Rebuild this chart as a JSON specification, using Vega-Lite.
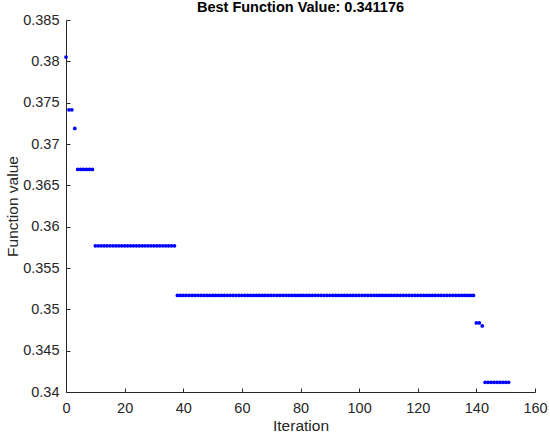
{
  "$schema": "https://vega.github.io/schema/vega-lite/v6.json",
  "autosize": {"type": "none"},
  "width": 469,
  "height": 372,
  "padding": {"left": 66, "top": 20, "right": 15, "bottom": 43},
  "background": "white",
  "title": {
    "text": "Best Function Value: 0.341176",
    "font": "Liberation Sans",
    "fontSize": 14.5,
    "fontWeight": "bold",
    "color": "#000000",
    "anchor": "middle",
    "offset": -3
  },
  "config": {
    "view": {"stroke": null},
    "axis": {
      "grid": false,
      "domainColor": "#262626",
      "tickColor": "#262626",
      "labelColor": "#262626",
      "titleColor": "#262626",
      "labelFont": "Liberation Sans",
      "titleFont": "Liberation Sans",
      "labelFontSize": 14.5,
      "titleFontSize": 15.5,
      "titleFontWeight": "normal",
      "tickSize": -4
    }
  },
  "data": {
    "values": [
      {"iter": 0, "val": 0.38052},
      {"iter": 1, "val": 0.37414},
      {"iter": 2, "val": 0.37414},
      {"iter": 3, "val": 0.37189},
      {"iter": 4, "val": 0.36692},
      {"iter": 5, "val": 0.36692},
      {"iter": 6, "val": 0.36692},
      {"iter": 7, "val": 0.36692},
      {"iter": 8, "val": 0.36692},
      {"iter": 9, "val": 0.36692},
      {"iter": 10, "val": 0.35768},
      {"iter": 11, "val": 0.35768},
      {"iter": 12, "val": 0.35768},
      {"iter": 13, "val": 0.35768},
      {"iter": 14, "val": 0.35768},
      {"iter": 15, "val": 0.35768},
      {"iter": 16, "val": 0.35768},
      {"iter": 17, "val": 0.35768},
      {"iter": 18, "val": 0.35768},
      {"iter": 19, "val": 0.35768},
      {"iter": 20, "val": 0.35768},
      {"iter": 21, "val": 0.35768},
      {"iter": 22, "val": 0.35768},
      {"iter": 23, "val": 0.35768},
      {"iter": 24, "val": 0.35768},
      {"iter": 25, "val": 0.35768},
      {"iter": 26, "val": 0.35768},
      {"iter": 27, "val": 0.35768},
      {"iter": 28, "val": 0.35768},
      {"iter": 29, "val": 0.35768},
      {"iter": 30, "val": 0.35768},
      {"iter": 31, "val": 0.35768},
      {"iter": 32, "val": 0.35768},
      {"iter": 33, "val": 0.35768},
      {"iter": 34, "val": 0.35768},
      {"iter": 35, "val": 0.35768},
      {"iter": 36, "val": 0.35768},
      {"iter": 37, "val": 0.35768},
      {"iter": 38, "val": 0.35168},
      {"iter": 39, "val": 0.35168},
      {"iter": 40, "val": 0.35168},
      {"iter": 41, "val": 0.35168},
      {"iter": 42, "val": 0.35168},
      {"iter": 43, "val": 0.35168},
      {"iter": 44, "val": 0.35168},
      {"iter": 45, "val": 0.35168},
      {"iter": 46, "val": 0.35168},
      {"iter": 47, "val": 0.35168},
      {"iter": 48, "val": 0.35168},
      {"iter": 49, "val": 0.35168},
      {"iter": 50, "val": 0.35168},
      {"iter": 51, "val": 0.35168},
      {"iter": 52, "val": 0.35168},
      {"iter": 53, "val": 0.35168},
      {"iter": 54, "val": 0.35168},
      {"iter": 55, "val": 0.35168},
      {"iter": 56, "val": 0.35168},
      {"iter": 57, "val": 0.35168},
      {"iter": 58, "val": 0.35168},
      {"iter": 59, "val": 0.35168},
      {"iter": 60, "val": 0.35168},
      {"iter": 61, "val": 0.35168},
      {"iter": 62, "val": 0.35168},
      {"iter": 63, "val": 0.35168},
      {"iter": 64, "val": 0.35168},
      {"iter": 65, "val": 0.35168},
      {"iter": 66, "val": 0.35168},
      {"iter": 67, "val": 0.35168},
      {"iter": 68, "val": 0.35168},
      {"iter": 69, "val": 0.35168},
      {"iter": 70, "val": 0.35168},
      {"iter": 71, "val": 0.35168},
      {"iter": 72, "val": 0.35168},
      {"iter": 73, "val": 0.35168},
      {"iter": 74, "val": 0.35168},
      {"iter": 75, "val": 0.35168},
      {"iter": 76, "val": 0.35168},
      {"iter": 77, "val": 0.35168},
      {"iter": 78, "val": 0.35168},
      {"iter": 79, "val": 0.35168},
      {"iter": 80, "val": 0.35168},
      {"iter": 81, "val": 0.35168},
      {"iter": 82, "val": 0.35168},
      {"iter": 83, "val": 0.35168},
      {"iter": 84, "val": 0.35168},
      {"iter": 85, "val": 0.35168},
      {"iter": 86, "val": 0.35168},
      {"iter": 87, "val": 0.35168},
      {"iter": 88, "val": 0.35168},
      {"iter": 89, "val": 0.35168},
      {"iter": 90, "val": 0.35168},
      {"iter": 91, "val": 0.35168},
      {"iter": 92, "val": 0.35168},
      {"iter": 93, "val": 0.35168},
      {"iter": 94, "val": 0.35168},
      {"iter": 95, "val": 0.35168},
      {"iter": 96, "val": 0.35168},
      {"iter": 97, "val": 0.35168},
      {"iter": 98, "val": 0.35168},
      {"iter": 99, "val": 0.35168},
      {"iter": 100, "val": 0.35168},
      {"iter": 101, "val": 0.35168},
      {"iter": 102, "val": 0.35168},
      {"iter": 103, "val": 0.35168},
      {"iter": 104, "val": 0.35168},
      {"iter": 105, "val": 0.35168},
      {"iter": 106, "val": 0.35168},
      {"iter": 107, "val": 0.35168},
      {"iter": 108, "val": 0.35168},
      {"iter": 109, "val": 0.35168},
      {"iter": 110, "val": 0.35168},
      {"iter": 111, "val": 0.35168},
      {"iter": 112, "val": 0.35168},
      {"iter": 113, "val": 0.35168},
      {"iter": 114, "val": 0.35168},
      {"iter": 115, "val": 0.35168},
      {"iter": 116, "val": 0.35168},
      {"iter": 117, "val": 0.35168},
      {"iter": 118, "val": 0.35168},
      {"iter": 119, "val": 0.35168},
      {"iter": 120, "val": 0.35168},
      {"iter": 121, "val": 0.35168},
      {"iter": 122, "val": 0.35168},
      {"iter": 123, "val": 0.35168},
      {"iter": 124, "val": 0.35168},
      {"iter": 125, "val": 0.35168},
      {"iter": 126, "val": 0.35168},
      {"iter": 127, "val": 0.35168},
      {"iter": 128, "val": 0.35168},
      {"iter": 129, "val": 0.35168},
      {"iter": 130, "val": 0.35168},
      {"iter": 131, "val": 0.35168},
      {"iter": 132, "val": 0.35168},
      {"iter": 133, "val": 0.35168},
      {"iter": 134, "val": 0.35168},
      {"iter": 135, "val": 0.35168},
      {"iter": 136, "val": 0.35168},
      {"iter": 137, "val": 0.35168},
      {"iter": 138, "val": 0.35168},
      {"iter": 139, "val": 0.35168},
      {"iter": 140, "val": 0.34835},
      {"iter": 141, "val": 0.34835},
      {"iter": 142, "val": 0.34799},
      {"iter": 143, "val": 0.341176},
      {"iter": 144, "val": 0.341176},
      {"iter": 145, "val": 0.341176},
      {"iter": 146, "val": 0.341176},
      {"iter": 147, "val": 0.341176},
      {"iter": 148, "val": 0.341176},
      {"iter": 149, "val": 0.341176},
      {"iter": 150, "val": 0.341176},
      {"iter": 151, "val": 0.341176}
    ]
  },
  "mark": {"type": "circle", "size": 14, "color": "#0000ff", "opacity": 1},
  "encoding": {
    "x": {
      "field": "iter",
      "type": "quantitative",
      "scale": {"domain": [0, 160], "nice": false, "zero": false},
      "axis": {
        "title": "Iteration",
        "values": [0, 20, 40, 60, 80, 100, 120, 140, 160],
        "format": "d",
        "labelPadding": 13,
        "titleY": 26,
        "labelFlush": false,
        "labelOverlap": false
      }
    },
    "y": {
      "field": "val",
      "type": "quantitative",
      "scale": {"domain": [0.34, 0.385], "nice": false, "zero": false},
      "axis": {
        "title": "Function value",
        "values": [0.34, 0.345, 0.35, 0.355, 0.36, 0.365, 0.37, 0.375, 0.38, 0.385],
        "format": ".3~f",
        "labelPadding": 11,
        "titleX": -46,
        "titleY": 186,
        "labelFlush": false,
        "labelOverlap": false
      }
    }
  }
}
